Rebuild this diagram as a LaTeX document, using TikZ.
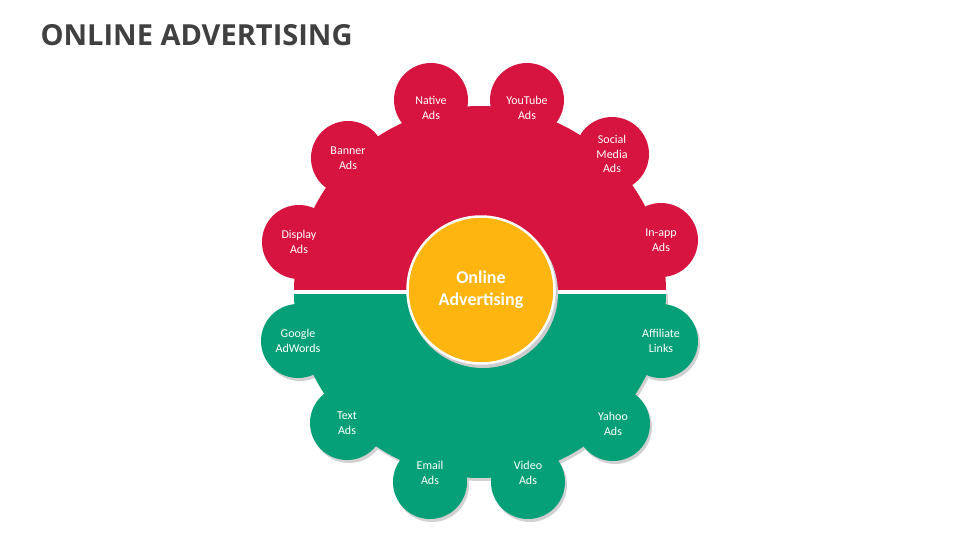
\documentclass[tikz,border=0pt]{standalone}
\usepackage{fontspec}
\setmainfont{Carlito}
\newfontfamily\titlefont{Open Sans}
\definecolor{cred}{HTML}{D7143F}
\definecolor{cgreen}{HTML}{05A077}
\definecolor{cyel}{HTML}{FFB50F}
\definecolor{ctitle}{HTML}{404040}
\begin{document}
\begin{tikzpicture}[x=1pt,y=-1pt,
  lbl/.style={text=white,font=\fontsize{12}{14.5}\selectfont,align=center},
  petal/.style={circle,minimum size=76pt,inner sep=0pt,lbl}]
\useasboundingbox (0,0) rectangle (960,540);
\fill[white] (0,0) rectangle (960,540);
\node[anchor=west,text=ctitle,font=\titlefont\bfseries\fontsize{29}{32}\selectfont] (title) at (37,35) {ONLINE ADVERTISING};
% shadows
\begin{scope}[shift={(2,3)}]
\fill[black!18] (480,292) circle (186);
\foreach \p in {(299,242),(348,158),(431,100),(527,100),(612,154),(661,240),(298,341),(347,423),(430,482),(528,482),(613,424),(661,341)}
  \fill[black!18] \p circle (37);
\end{scope}
\fill[white] (200,60) rectangle (760,292);
% red half
\begin{scope}
\clip (200,40) rectangle (760,290);
\fill[cred] (480,292) circle (186);
\foreach \p in {(299,242),(348,158),(431,100),(527,100),(612,154),(661,240)}
  \fill[cred] \p circle (37);
\end{scope}
\begin{scope}
\clip (200,294) rectangle (760,530);
\fill[white] (200,290) rectangle (760,294);
\fill[cgreen] (480,292) circle (186);
\foreach \p in {(298,341),(347,423),(430,482),(528,482),(613,424),(661,341)}
  \fill[cgreen] \p circle (37);
\end{scope}
\fill[white] (280,290) rectangle (700,294);
\node[petal] (display) at (299,242) {Display\\Ads};
\node[petal] (banner) at (348,158) {Banner\\Ads};
\node[petal] (native) at (431,108) {Native\\Ads};
\node[petal] (youtube) at (527,108) {YouTube\\Ads};
\node[petal] (social) at (612,154) {Social\\Media\\Ads};
\node[petal] (inapp) at (661,240) {In-app\\Ads};
\node[petal] (google) at (298,341) {Google\\AdWords};
\node[petal] (text) at (347,423) {Text\\Ads};
\node[petal] (email) at (430,473) {Email\\Ads};
\node[petal] (video) at (528,473) {Video\\Ads};
\node[petal] (yahoo) at (613,424) {Yahoo\\Ads};
\node[petal] (affiliate) at (661,341) {Affiliate\\Links};
\fill[black!20] (483,293) circle (75);
\node[circle,fill=cyel,draw=white,line width=2.5pt,minimum size=147pt,inner sep=0pt,text=white,font=\bfseries\fontsize{18}{22}\selectfont,align=center] (center) at (481,290) {Online\\Advertising};
\end{tikzpicture}
\end{document}
